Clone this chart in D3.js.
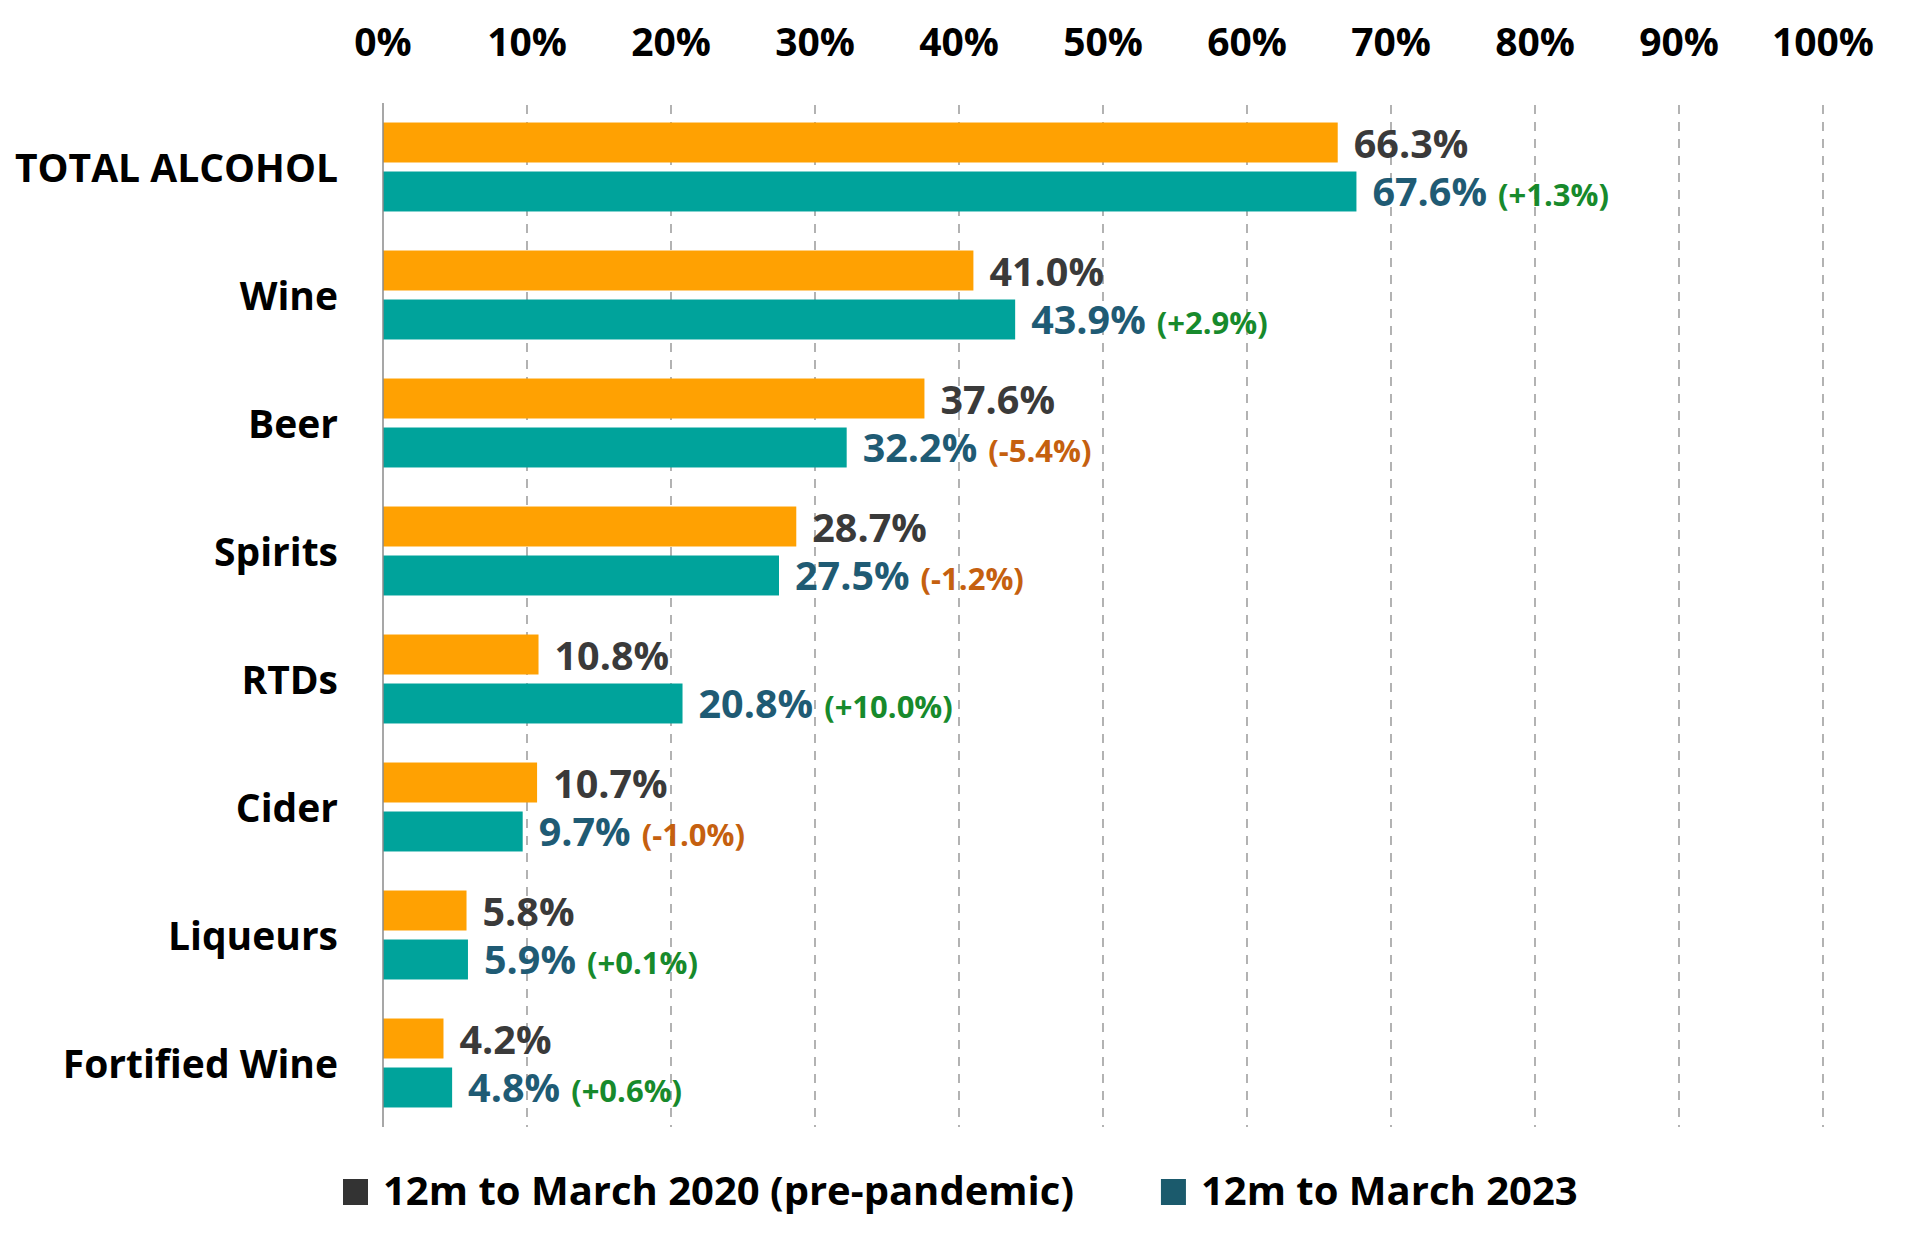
<!DOCTYPE html>
<html>
<head>
<meta charset="utf-8">
<script src="https://cdn.jsdelivr.net/npm/d3@7"></script>
<style>
  body { margin: 0; background: #fff; }
  text { font-family: "Open Sans", "DejaVu Sans", sans-serif; font-weight: 700; }
</style>
</head>
<body>
<svg id="chart" width="1906" height="1244"></svg>
<script>
const categories = ["TOTAL ALCOHOL", "Wine", "Beer", "Spirits", "RTDs", "Cider", "Liqueurs", "Fortified Wine"];
const seriesNames = ["12m to March 2020 (pre-pandemic)", "12m to March 2023"];
const pre2020 = [66.3, 41.0, 37.6, 28.7, 10.8, 10.7, 5.8, 4.2];
const to2023 = [67.6, 43.9, 32.2, 27.5, 20.8, 9.7, 5.9, 4.8];
const changeLabels = ["(+1.3%)", "(+2.9%)", "(-5.4%)", "(-1.2%)", "(+10.0%)", "(-1.0%)", "(+0.1%)", "(+0.6%)"];
const tickValues = [0, 10, 20, 30, 40, 50, 60, 70, 80, 90, 100];

const barColors = ["#FFA102", "#00A39B"];
const valueColors = ["#3A3A3A", "#1F5B74"];
const legendColors = ["#333333", "#1B5A6C"];
const upColor = "#178A2C";
const downColor = "#C5600F";

const svg = d3.select("#chart");

const x = d3.scaleLinear().domain([0, 100]).range([383, 1823]);
const y = d3.scaleBand().domain(categories).range([103, 1127]).paddingInner(0.305).paddingOuter(0.1525);
const ySub = d3.scaleBand().domain([0, 1]).range([0, y.bandwidth()]).paddingInner(0.184);

// dashed gridlines
svg.append("g")
  .selectAll("line")
  .data(tickValues.slice(1))
  .join("line")
  .attr("x1", d => x(d)).attr("x2", d => x(d))
  .attr("y1", 105).attr("y2", 1127)
  .attr("stroke", "#808080")
  .attr("stroke-width", 1.2)
  .attr("stroke-dasharray", "9 8");

// tick labels on top
svg.append("g")
  .selectAll("text")
  .data(tickValues)
  .join("text")
  .attr("x", d => x(d))
  .attr("y", 56)
  .attr("text-anchor", "middle")
  .attr("font-size", 39)
  .attr("fill", "#000")
  .text(d => d + "%");

// category labels
svg.append("g")
  .selectAll("text")
  .data(categories)
  .join("text")
  .attr("x", 338)
  .attr("y", d => y(d) + y.bandwidth() / 2 + 15)
  .attr("text-anchor", "end")
  .attr("font-size", 39)
  .attr("fill", "#000")
  .text(d => d);

const rows = categories.map((c, i) => ({ cat: c, vals: [pre2020[i], to2023[i]], change: changeLabels[i] }));

const groups = svg.append("g")
  .selectAll("g")
  .data(rows)
  .join("g")
  .attr("transform", d => `translate(0, ${y(d.cat)})`);

groups.selectAll("rect")
  .data(d => d.vals.map((v, s) => ({ v, s })))
  .join("rect")
  .attr("x", x(0))
  .attr("y", d => ySub(d.s))
  .attr("width", d => x(d.v) - x(0))
  .attr("height", ySub.bandwidth())
  .attr("fill", d => barColors[d.s]);

groups.selectAll("text.val")
  .data(d => d.vals.map((v, s) => ({ v, s })))
  .join("text")
  .attr("class", "val")
  .attr("x", d => x(d.v) + 16)
  .attr("y", d => ySub(d.s) + ySub.bandwidth() / 2 + 15)
  .attr("font-size", 39.5)
  .attr("fill", d => valueColors[d.s])
  .text(d => d.v.toFixed(1) + "%");

// change labels after the 2023 value
groups.each(function (d) {
  const g = d3.select(this);
  const valText = g.selectAll("text.val").filter(t => t.s === 1).node();
  const box = valText.getBBox();
  g.append("text")
    .attr("x", box.x + box.width + 11)
    .attr("y", ySub(1) + ySub.bandwidth() / 2 + 15)
    .attr("font-size", 31)
    .attr("fill", d.change.startsWith("(-") ? downColor : upColor)
    .text(d.change);
});

// axis line at 0
svg.append("line")
  .attr("x1", x(0)).attr("x2", x(0))
  .attr("y1", 103).attr("y2", 1127)
  .attr("stroke", "#8a8a8a")
  .attr("stroke-width", 1.5);

// legend
const legend = svg.append("g").attr("transform", "translate(343, 1179)");
let lx = 0;
seriesNames.forEach((name, i) => {
  const item = legend.append("g").attr("transform", `translate(${lx}, 0)`);
  item.append("rect").attr("width", 25).attr("height", 26).attr("fill", legendColors[i]);
  const t = item.append("text")
    .attr("x", 40)
    .attr("y", 26)
    .attr("font-size", 40)
    .attr("fill", "#000")
    .text(name);
  lx += 40 + t.node().getComputedTextLength() + 87;
});
</script>
</body>
</html>
